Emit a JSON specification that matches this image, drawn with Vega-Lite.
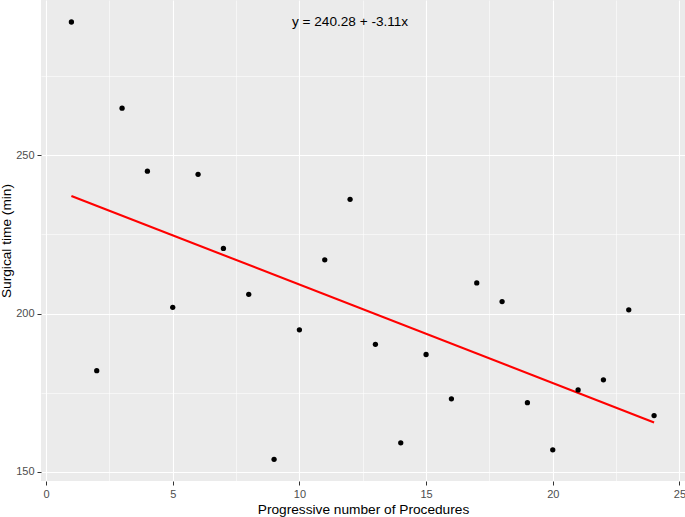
{
  "$schema": "https://vega.github.io/schema/vega-lite/v6.json",
  "autosize": "none",
  "width": 644,
  "height": 481,
  "padding": {"left": 41, "top": 0, "right": 0, "bottom": 36},
  "background": "white",
  "datasets": {
    "procedures": [
      {"n": 1, "time": 292.1},
      {"n": 2, "time": 182.0},
      {"n": 3, "time": 264.9},
      {"n": 4, "time": 245.0},
      {"n": 5, "time": 202.0},
      {"n": 6, "time": 244.0},
      {"n": 7, "time": 220.6},
      {"n": 8, "time": 206.1},
      {"n": 9, "time": 154.0},
      {"n": 10, "time": 194.9},
      {"n": 11, "time": 217.0},
      {"n": 12, "time": 236.1},
      {"n": 13, "time": 190.3},
      {"n": 14, "time": 159.2},
      {"n": 15, "time": 187.1},
      {"n": 16, "time": 173.1},
      {"n": 17, "time": 209.7},
      {"n": 18, "time": 203.8},
      {"n": 19, "time": 171.9},
      {"n": 20, "time": 157.0},
      {"n": 21, "time": 175.9},
      {"n": 22, "time": 179.1},
      {"n": 23, "time": 201.2},
      {"n": 24, "time": 167.8}
    ],
    "fit": [
      {"n": 1, "time": 237.17},
      {"n": 24, "time": 165.64}
    ],
    "label": [
      {"n": 12, "time": 292.1, "text": "y = 240.28 + -3.11x"}
    ]
  },
  "encoding": {
    "x": {
      "field": "n",
      "type": "quantitative",
      "title": "Progressive number of Procedures",
      "scale": {"domain": [-0.2, 25.22], "nice": false, "zero": false},
      "axis": {
        "values": [0, 2.5, 5, 7.5, 10, 12.5, 15, 17.5, 20, 22.5, 25],
        "labelExpr": "datum.value % 5 === 0 ? datum.label : ''",
        "gridWidth": {"condition": {"test": "datum.value % 5 !== 0", "value": 0.55}, "value": 1.1},
        "tickOpacity": {"condition": {"test": "datum.value % 5 !== 0", "value": 0}, "value": 1},
        "labelPadding": 3,
        "titlePadding": 3
      }
    },
    "y": {
      "field": "time",
      "type": "quantitative",
      "title": "Surgical time (min)",
      "scale": {"domain": [147.15, 299.05], "nice": false, "zero": false},
      "axis": {
        "values": [150, 175, 200, 225, 250, 275],
        "labelExpr": "datum.value % 50 === 0 ? datum.label : ''",
        "gridWidth": {"condition": {"test": "datum.value % 50 !== 0", "value": 0.55}, "value": 1.1},
        "tickOpacity": {"condition": {"test": "datum.value % 50 !== 0", "value": 0}, "value": 1},
        "labelPadding": 3,
        "titlePadding": 2
      }
    }
  },
  "layer": [
    {
      "data": {"name": "fit"},
      "mark": {"type": "line", "color": "#FF0000", "strokeWidth": 2.1}
    },
    {
      "data": {"name": "procedures"},
      "mark": {"type": "circle", "color": "black", "opacity": 1, "size": 28}
    },
    {
      "data": {"name": "label"},
      "mark": {
        "type": "text",
        "font": "Liberation Sans",
        "fontSize": 13.6,
        "color": "black",
        "align": "center",
        "baseline": "middle"
      },
      "encoding": {"text": {"field": "text"}}
    }
  ],
  "config": {
    "view": {"fill": "#EBEBEB", "stroke": null},
    "axis": {
      "domain": false,
      "grid": true,
      "gridColor": "white",
      "tickColor": "#333333",
      "tickSize": 4,
      "tickWidth": 1,
      "labelFont": "Liberation Sans",
      "labelFontSize": 11,
      "labelColor": "#4D4D4D",
      "titleFont": "Liberation Sans",
      "titleFontSize": 13.7,
      "titleFontWeight": "normal",
      "titleColor": "black"
    }
  }
}
